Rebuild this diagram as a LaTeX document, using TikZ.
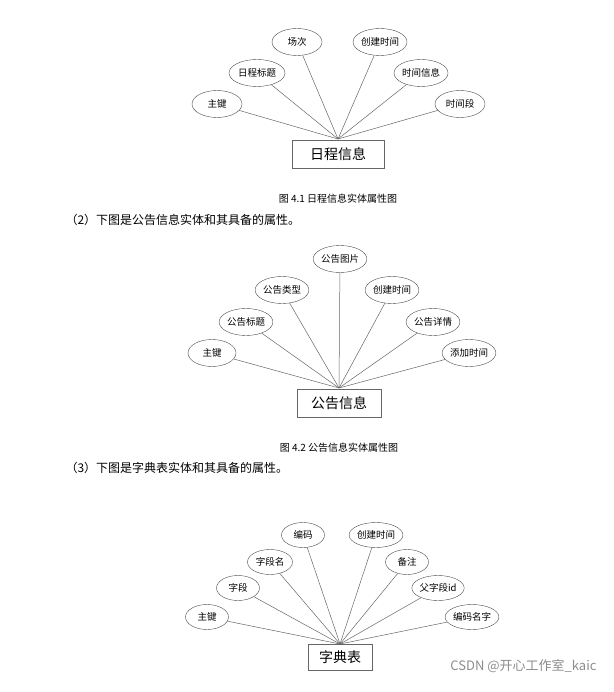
\documentclass[tikz,border=0pt]{standalone}
\usepackage{fontspec}
\setmainfont{Noto Sans CJK SC}
\usetikzlibrary{shapes.geometric}
\begin{document}
\begin{tikzpicture}[x=1pt,y=-1pt,
 attr/.style={draw=black!70,ellipse,inner sep=0pt,minimum width=#1,minimum height=27,font=\fontsize{9.5}{10}\selectfont},
 attr/.default=50,
 ent/.style={draw=black!60,rectangle,font=\fontsize{14}{15}\selectfont,inner sep=0pt},
 link/.style={draw=black!60,line width=0.5pt},
 figcap/.style={font=\fontsize{10}{11}\selectfont},
 para/.style={font=\fontsize{12}{13}\selectfont,anchor=west}]
\useasboundingbox (0,0) rectangle (613,692);
% diagram 1
\node[ent,minimum width=92,minimum height=28] (e1) at (338,154) {日程信息};
\coordinate (c1) at (338,139);
\node[attr] (a11) at (217,104) {主键};
\node[attr=56] (a12) at (257,73) {日程标题};
\node[attr] (a13) at (297,42) {场次};
\node[attr=54] (a14) at (380,42) {创建时间};
\node[attr=54] (a15) at (421,73) {时间信息};
\node[attr] (a16) at (460,104) {时间段};
\foreach \a in {a11,a12,a13,a14,a15,a16} \draw[link] (\a) -- (c1);
\node[figcap] (cap1) at (338,199) {图 4.1 日程信息实体属性图};
\node[para] (p2) at (62,220) {（2）下图是公告信息实体和其具备的属性。};
% diagram 2
\node[ent,minimum width=84,minimum height=28] (e2) at (339,403) {公告信息};
\coordinate (c2) at (339,388);
\node[attr=48] (a21) at (212,353) {主键};
\node[attr=50] (a22) at (246,322) {公告标题};
\node[attr=50] (a23) at (282,290) {公告类型};
\node[attr=48] (a24) at (340,259) {公告图片};
\node[attr=50] (a25) at (392,290) {创建时间};
\node[attr=50] (a26) at (433,322) {公告详情};
\node[attr=50] (a27) at (469,353) {添加时间};
\foreach \a in {a21,a22,a23,a24,a25,a26,a27} \draw[link] (\a) -- (c2);
\node[figcap] (cap2) at (339,448) {图 4.2 公告信息实体属性图};
\node[para] (p3) at (62,468) {（3）下图是字典表实体和其具备的属性。};
% diagram 3
\node[ent,minimum width=64,minimum height=26] (e3) at (340,657) {字典表};
\coordinate (c3) at (340,644);
\node[attr=43,minimum height=25] (a31) at (207,617) {主键};
\node[attr=43,minimum height=25] (a32) at (238,588) {字段};
\node[attr=45,minimum height=25] (a33) at (270,562) {字段名};
\node[attr=43,minimum height=25] (a34) at (303,535) {编码};
\node[attr=44,minimum height=25] (a35) at (376,535) {创建时间};
\node[attr=43,minimum height=25] (a36) at (407,562) {备注};
\node[attr=42,minimum height=25] (a37) at (438,588) {父字段id};
\node[attr=44,minimum height=25] (a38) at (472,617) {编码名字};
\foreach \a in {a31,a32,a33,a34,a35,a36,a37,a38} \draw[link] (\a) -- (c3);
\node[font=\fontsize{13}{14}\selectfont,text=black!45,anchor=east] (wm) at (600,666) {CSDN @开心工作室\_kaic};
\end{tikzpicture}
\end{document}
